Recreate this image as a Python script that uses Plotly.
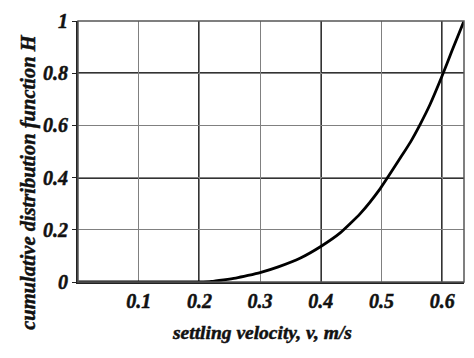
import plotly.graph_objects as go

# data
velocity = [0.0, 0.20, 0.22, 0.24, 0.26, 0.28, 0.30, 0.33, 0.3666, 0.40, 0.432,
            0.465, 0.498, 0.531, 0.548, 0.564, 0.58, 0.60, 0.616, 0.636]
H = [0.0, 0.0, 0.002, 0.008, 0.015, 0.025, 0.036, 0.058, 0.092, 0.136, 0.188,
     0.262, 0.358, 0.475, 0.537, 0.605, 0.68, 0.79, 0.885, 1.0]

x_ticks = [0.1, 0.2, 0.3, 0.4, 0.5, 0.6]
x_labels = ["0.1", "0.2", "0.3", "0.4", "0.5", "0.6"]
y_ticks = [0, 0.2, 0.4, 0.6, 0.8, 1]
y_labels = ["0", "0.2", "0.4", "0.6", "0.8", "1"]
x_major_grid = [0.2, 0.4, 0.6]
y_major_grid = [0.4, 0.8]
x_title = "settling velocity, v, m/s"
y_title = "cumulative distribution function H"

FONT = "Liberation Serif"
TXT = "#111"
title_font = dict(family=FONT, size=19.5, color=TXT, style="italic", weight="bold")

fig = go.Figure()
fig.add_trace(go.Scatter(x=velocity, y=H, mode="lines",
                         line=dict(color="black", width=2.8, shape="spline", smoothing=0.5),
                         showlegend=False))

fig.update_layout(
    width=474, height=358,
    margin=dict(l=78, r=10, t=21, b=76),
    paper_bgcolor="white", plot_bgcolor="white",
    font=dict(family=FONT, color=TXT, size=20),
    xaxis=dict(
        range=[0, 0.636], tickvals=x_ticks, ticktext=x_labels, automargin=False,
        showgrid=True, gridcolor="#808080", gridwidth=1,
        minor=dict(tickvals=x_major_grid, showgrid=True, gridcolor="#333", gridwidth=2, ticks=""),
        showline=True, linecolor="#222", linewidth=2,
        ticks="", zeroline=False,
        tickfont=dict(family=FONT, size=20, color=TXT, style="italic", weight="bold"),
    ),
    yaxis=dict(
        range=[0, 1], tickvals=y_ticks, ticktext=y_labels, automargin=False,
        showgrid=True, gridcolor="#808080", gridwidth=1,
        minor=dict(tickvals=y_major_grid, showgrid=True, gridcolor="#333", gridwidth=2, ticks=""),
        showline=True, linecolor="#222", linewidth=2,
        ticks="outside", ticklen=4, tickcolor="#222", zeroline=False,
        tickfont=dict(family=FONT, size=20, color=TXT, style="italic", weight="bold"),
    ),
    annotations=[
        dict(text=x_title, xref="paper", yref="paper", x=0.477, y=-0.195,
             xanchor="center", yanchor="middle", showarrow=False, font=title_font),
        dict(text=y_title, xref="paper", yref="paper", x=-0.13, y=0.383, textangle=-90,
             xanchor="center", yanchor="middle", showarrow=False,
             font=dict(family=FONT, size=20.5, color=TXT, style="italic", weight="bold")),
    ],
    shapes=[dict(type="rect", xref="paper", yref="paper", x0=0, y0=0, x1=1, y1=1,
                 line=dict(color="#555", width=1.5), layer="above")],
)

post = (
    "document.body.style.margin='0';document.body.style.overflow='hidden';"
    "document.querySelectorAll('svg text').forEach(function(t){"
    "t.style.stroke='#111';t.style.strokeWidth='0.5px';});"
)
fig.write_html("out.html", config={"displayModeBar": False}, post_script=post)
